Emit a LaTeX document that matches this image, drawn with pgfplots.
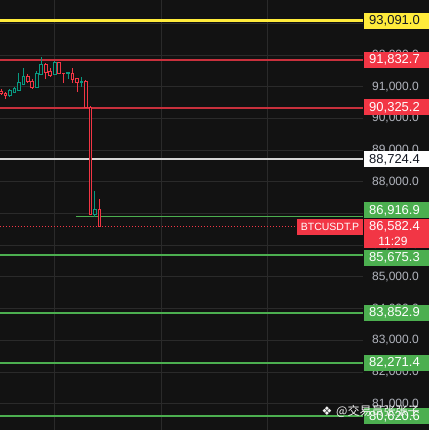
\documentclass[border=0pt]{standalone}
\usepackage{pgfplots}
\pgfplotsset{compat=1.18}
\usepackage{fontspec}
\setmainfont{Liberation Sans}
\newfontfamily\cjk{Noto Sans CJK SC}
\newfontfamily\sym{DejaVu Sans}
\definecolor{bg}{HTML}{121212}
\definecolor{gridc}{HTML}{2A2A2A}
\definecolor{tickc}{HTML}{B2B5BE}
\definecolor{tvred}{HTML}{F23645}
\definecolor{linered}{HTML}{C8303C}
\definecolor{tvgreen}{HTML}{089981}
\definecolor{lgreen}{HTML}{4CAF50}
\definecolor{tvyellow}{HTML}{FFEB3B}
\definecolor{darktxt}{HTML}{131722}
\definecolor{wline}{HTML}{D6D6D6}
\tikzset{
  candR/.style={draw=tvred, fill=bg, line width=0.9pt, solid, mark=none},
  candG/.style={draw=tvgreen, fill=bg, line width=0.9pt, solid, mark=none},
}
% \cR{xl}{xr}{x}{open}{close}{high}{low}
\newcommand{\cR}[7]{%
  \addplot[tvred, line width=0.9pt, mark=none] coordinates {(#3,#6) (#3,#7)};
  \addplot[candR] coordinates {(#1,#4) (#2,#4) (#2,#5) (#1,#5)} -- cycle;}
\newcommand{\cG}[7]{%
  \addplot[tvgreen, line width=0.9pt, mark=none] coordinates {(#3,#6) (#3,#7)};
  \addplot[candG] coordinates {(#1,#4) (#2,#4) (#2,#5) (#1,#5)} -- cycle;}
\newcommand{\boxfont}{\fontsize{13}{13}\selectfont}
% \pbox{center y (pt)}{fill}{text colour}{text}
\newcommand{\pbox}[4]{%
  \node[fill=#2, minimum width=65pt, minimum height=16pt, inner sep=0pt, anchor=west] at (364pt,#1pt) {};
  \node[anchor=east, text=#3, inner sep=0pt, font=\boxfont] at (420pt,#1pt) {#4};}
\begin{document}
\begin{tikzpicture}
\path[use as bounding box] (0,0) rectangle (429pt,430pt);
\fill[bg] (0,0) rectangle (429pt,430pt);
\begin{axis}[
  at={(0,0)}, anchor=south west,
  scale only axis, width=363pt, height=430pt,
  xmin=-0.22, xmax=80.99, ymin=80171, ymax=93731.6,
  axis line style={draw=none},
  major tick length=0pt,
  xtick={11.93,35.87,59.58}, xticklabels={},
  ytick={80000,81000,...,93000},
  scaled y ticks=false,
  grid=major, grid style={gridc, line width=0.8pt},
  yticklabel pos=right,
  yticklabel style={anchor=east, xshift=56pt, inner sep=0pt, text=tickc, font=\fontsize{12}{12}\selectfont,
    /pgf/number format/.cd, fixed, fixed zerofill, precision=1, 1000 sep={,}, assume math mode=true},
]
% horizontal levels
\addplot[tvyellow, line width=2.5pt] coordinates {(-0.22,93091.0) (80.99,93091.0)};
\addplot[linered, line width=2pt] coordinates {(-0.22,91832.7) (80.99,91832.7)};
\addplot[linered, line width=2pt] coordinates {(-0.22,90325.2) (80.99,90325.2)};
\addplot[wline, line width=2pt] coordinates {(-0.22,88724.4) (80.99,88724.4)};
\addplot[lgreen, line width=1pt] coordinates {(16.78,86916.9) (80.99,86916.9)};
\addplot[tvred, line width=1pt, dash pattern=on 1pt off 2pt] coordinates {(-0.22,86582.4) (66.2,86582.4)};
\addplot[lgreen, line width=2pt] coordinates {(-0.22,85675.3) (80.99,85675.3)};
\addplot[lgreen, line width=2pt] coordinates {(-0.22,83852.9) (80.99,83852.9)};
\addplot[lgreen, line width=2pt] coordinates {(-0.22,82271.4) (80.99,82271.4)};
\addplot[lgreen, line width=2pt] coordinates {(-0.22,80620.6) (80.99,80620.6)};
% candles: left, right, centre, open, close, high, low
\cR{-0.3}{0.3}{0}{90862}{90789}{90925}{90736}
\cR{0.7}{1.3}{1}{90799}{90736}{90830}{90610}
\cG{1.7}{2.3}{2}{90714}{90871}{90925}{90682}
\cG{2.7}{3.3}{3}{90821}{90934}{90988}{90789}
\cG{3.7}{4.3}{4}{90894}{91124}{91430}{90871}
\cG{4.7}{5.3}{5}{91083}{91335}{91587}{91051}
\cR{5.7}{6.3}{6}{91325}{91155}{91398}{91124}
\cR{6.7}{7.3}{7}{91177}{90966}{91231}{90915}
\cG{7.7}{8.3}{8}{90966}{91430}{91493}{90947}
\cG{8.7}{9.3}{9}{91398}{91713}{91934}{91357}
\cR{9.7}{10.3}{10}{91713}{91439}{91729}{91231}
\cR{10.7}{11.3}{11}{91470}{91367}{91578}{91294}
\cG{11.7}{12.3}{12}{91376}{91776}{91817}{91367}
\cR{12.7}{13.3}{13}{91767}{91420}{91767}{91388}
\cR{13.7}{14.3}{14}{91430}{91407}{91430}{91105}
\cG{14.7}{15.3}{15}{91430}{91451}{91461}{91250}
\cR{15.7}{16.3}{16}{91430}{91240}{91578}{91124}
\cR{16.7}{17.3}{17}{91262}{91124}{91262}{90840}
\cG{17.7}{18.3}{18}{91124}{91177}{91294}{90997}
\cR{18.7}{19.3}{19}{91177}{90341}{91209}{90326}
\cR{19.7}{20.3}{20}{90357}{86960}{90389}{86950}
\cG{20.7}{21.3}{21}{86961}{87131}{87708}{86898}
\cR{21.7}{22.3}{22}{87131}{86582.4}{87456}{86582.4}
\end{axis}
% price labels
\pbox{408.7}{tvyellow}{darktxt}{93,091.0}
\pbox{369.7}{tvred}{white}{91,832.7}
\pbox{322.7}{tvred}{white}{90,325.2}
\pbox{270.5}{white}{darktxt}{88,724.4}
\pbox{219.7}{lgreen}{white}{86,916.9}
\fill[tvred] (364pt,181.7pt) rectangle (429pt,211pt);
\node[anchor=east, text=white, inner sep=0pt, font=\boxfont] at (420pt,203.4pt) {86,582.4};
\node[anchor=center, text=white, inner sep=0pt, font=\fontsize{12}{12}\selectfont] at (393pt,189pt) {11:29};
\fill[tvred] (297pt,195pt) rectangle (363pt,211pt);
\node[anchor=center, text=white, inner sep=0pt, font=\fontsize{10.5}{10.5}\selectfont] at (330pt,203pt) {BTCUSDT.P};
\pbox{172.2}{lgreen}{white}{85,675.3}
\pbox{117.3}{lgreen}{white}{83,852.9}
\pbox{67.3}{lgreen}{white}{82,271.4}
\pbox{13.5}{lgreen}{white}{80,620.6}
% watermark
\node[anchor=center, text=white!90!gray, inner sep=0pt, font=\sym\fontsize{12}{12}\selectfont] at (327pt,19pt) {❖};
\node[anchor=west, text=white!90!gray, inner sep=0pt, font=\cjk\fontsize{12}{12}\selectfont] at (336pt,19pt) {@交易员张张子};
\end{tikzpicture}
\end{document}
